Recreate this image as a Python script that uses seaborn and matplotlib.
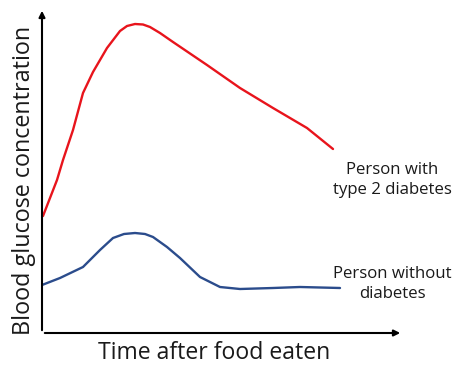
import matplotlib
matplotlib.use('Agg')
import matplotlib.pyplot as plt
import pandas as pd
import seaborn as sns

# values (time and glucose in arbitrary units)
red_time = [1, 15, 21, 31, 41, 51, 65, 78, 85, 93, 101, 108, 118, 131, 165, 198, 231, 265, 291]
red_glucose = [117, 153, 173, 203, 240, 261, 285, 302, 307, 309, 308.5, 306, 300, 291, 268, 245, 225, 205, 184]

blue_time = [0, 18, 41, 58, 71, 82, 93, 103, 111, 125, 138, 158, 178, 198, 231, 258, 298]
blue_glucose = [48, 55, 66, 83, 95, 99, 100, 99, 96, 86, 75, 56, 46, 44, 45, 46, 45]

labels = ['Person with\ntype 2 diabetes', 'Person without\ndiabetes']

sns.set_style("white")
plt.rcParams['font.family'] = ['Open Sans', 'DejaVu Sans']

fig = plt.figure(figsize=(4.74, 3.82), dpi=100)
ax = fig.add_axes([42 / 474, 49 / 382, 361 / 474, 325 / 382])

red_df = pd.DataFrame({'time': red_time, 'glucose': red_glucose})
blue_df = pd.DataFrame({'time': blue_time, 'glucose': blue_glucose})
sns.lineplot(data=red_df, x='time', y='glucose', color='#e8141c', lw=1.7, ax=ax)
sns.lineplot(data=blue_df, x='time', y='glucose', color='#2b4c8c', lw=1.7, ax=ax)

ax.set_xlim(0, 361)
ax.set_ylim(0, 325)
ax.set_xticks([])
ax.set_yticks([])
for s in ax.spines.values():
    s.set_visible(False)

# axis arrows
ax.annotate('', xy=(361, 0), xytext=(0, 0),
            arrowprops=dict(arrowstyle='-|>', color='black', lw=1.5, mutation_scale=9),
            annotation_clip=False)
ax.annotate('', xy=(0, 325), xytext=(0, 0),
            arrowprops=dict(arrowstyle='-|>', color='black', lw=1.5, mutation_scale=9),
            annotation_clip=False)

ax.set_xlabel('Time after food eaten', fontsize=16.6, color='#1a1a1a', va='center')
ax.set_ylabel('Blood glucose concentration', fontsize=16.8, color='#1a1a1a', va='center')
ax.xaxis.set_label_coords(0.476, -0.063)
ax.yaxis.set_label_coords(-0.05, 0.47)

ax.text(350, 153, labels[0], ha='center', va='center', fontsize=12.1,
        color='#1a1a1a', linespacing=1.4, clip_on=False)
ax.text(350, 49, labels[1], ha='center', va='center', fontsize=12.1,
        color='#1a1a1a', linespacing=1.4, clip_on=False)

fig.savefig('out.png', dpi=100)
